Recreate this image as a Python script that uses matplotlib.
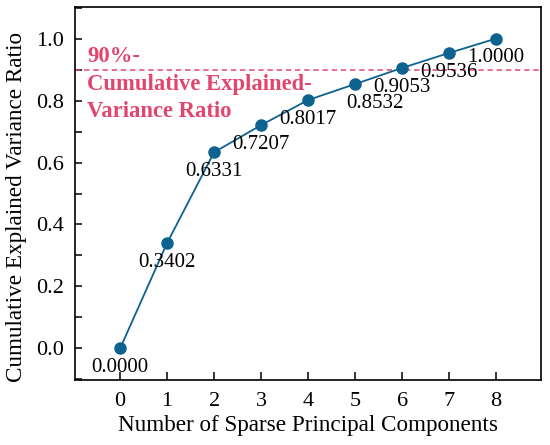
import matplotlib
matplotlib.use('Agg')
import matplotlib.pyplot as plt
from matplotlib.ticker import MultipleLocator

# Cumulative explained variance ratio per number of sparse PCs
n_components = [0, 1, 2, 3, 4, 5, 6, 7, 8]
cum_ratio = [0.0000, 0.3402, 0.6331, 0.7207, 0.8017, 0.8532, 0.9053, 0.9536, 1.0000]
ratio_labels = ['0.0000', '0.3402', '0.6331', '0.7207', '0.8017',
                '0.8532', '0.9053', '0.9536', '1.0000']
threshold = 0.9
threshold_text = '90%-\nCumulative Explained-\nVariance Ratio'

plt.rcParams['font.family'] = ['Liberation Serif', 'DejaVu Serif']

line_color = '#0e6290'
pink = '#e2466f'

fig = plt.figure(figsize=(5.5, 4.45), dpi=100)
ax = fig.add_axes([75/550, 1 - 380/445, (540.7-75)/550, (380-7)/445])

ax.plot(n_components, cum_ratio, color=line_color, lw=1.3,
        marker='o', markersize=8, zorder=3)
ax.axhline(threshold, color=pink, lw=1.1, ls=(0, (3.5, 2.5)), zorder=2)

# value labels under each point
for i, (x, y, s) in enumerate(zip(n_components, cum_ratio, ratio_labels)):
    dx = 14.5 if i == 5 else 0
    ax.annotate(s, (x, y), xytext=(dx, -17), textcoords='offset points',
                ha='center', va='baseline', fontsize=15)

ax.text(-0.70, 0.975, threshold_text, color=pink, fontsize=16.3,
        fontweight='bold', ha='left', va='top', linespacing=1.4)

ax.set_xlim(-0.96, 8.95)
ax.set_ylim(-0.102, 1.102)
ax.set_xticks(n_components)
ax.yaxis.set_major_locator(MultipleLocator(0.2))
ax.yaxis.set_minor_locator(MultipleLocator(0.1))
ax.yaxis.set_major_formatter(plt.FormatStrFormatter('%.1f'))

ax.tick_params(axis='both', which='both', direction='in', top=False, right=False,
               labelsize=16, width=1.1)
ax.tick_params(axis='y', which='major', length=5, pad=8)
ax.tick_params(axis='y', which='minor', length=5)
ax.tick_params(axis='x', which='major', length=5.5, pad=9)
for sp in ax.spines.values():
    sp.set_linewidth(1.2)

ax.set_xlabel('Number of Sparse Principal Components', fontsize=16.7)
ax.set_ylabel('Cumulative Explained Variance Ratio', fontsize=16.7)
ax.yaxis.set_label_coords(-0.103, 0.4625)
ax.xaxis.set_label_coords(0.5, -0.095)

fig.savefig('out.png', dpi=100)
